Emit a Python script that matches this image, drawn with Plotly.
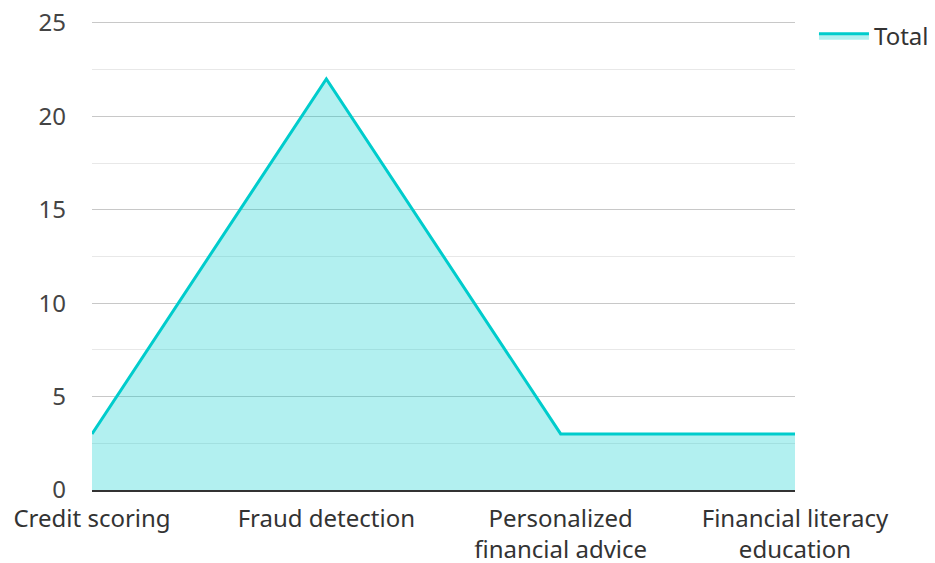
import plotly.graph_objects as go

categories = ["Credit scoring", "Fraud detection", "Personalized<br>financial advice", "Financial literacy<br>education"]
values = [3, 22, 3, 3]
series_name = "Total"

fig = go.Figure()
fig.add_trace(go.Scatter(
    x=categories, y=values, name=series_name, mode="lines",
    line=dict(color="#00CCCC", width=3),
    fill="tozeroy", fillcolor="rgba(0,204,204,0.3)",
    showlegend=True,
))

# page body has an 8px default margin, so margins are offset accordingly
fig.update_layout(
    width=935, height=563,
    margin=dict(l=84, r=148, t=13, b=81),
    paper_bgcolor="white", plot_bgcolor="white",
    font=dict(family="Noto Sans, Open Sans, sans-serif", size=24, color="#444444"),
    legend=dict(xref="container", yref="container", x=0.862, y=0.99,
                xanchor="left", yanchor="top", itemwidth=50,
                font=dict(size=24, color="#333333")),
    xaxis=dict(
        range=[0, 3], showgrid=False, showline=True, linecolor="#333333", linewidth=2,
        ticks="", tickfont=dict(size=24, color="#333333"), automargin=False,
        ticklabelstandoff=6,
    ),
    yaxis=dict(
        range=[0, 25.1], tickvals=[0, 5, 10, 15, 20, 25], showgrid=True, gridcolor="#c8c8c8",
        gridwidth=1, zeroline=False, showline=False, ticks="", ticklabelstandoff=25,
        ticklabeloverflow="allow",
        minor=dict(tickvals=[2.5, 7.5, 12.5, 17.5, 22.5], showgrid=True, gridcolor="#e8e8e8", gridwidth=1),
        tickfont=dict(size=24, color="#444444"), automargin=False,
    ),
)

fig.write_html("out.html")
